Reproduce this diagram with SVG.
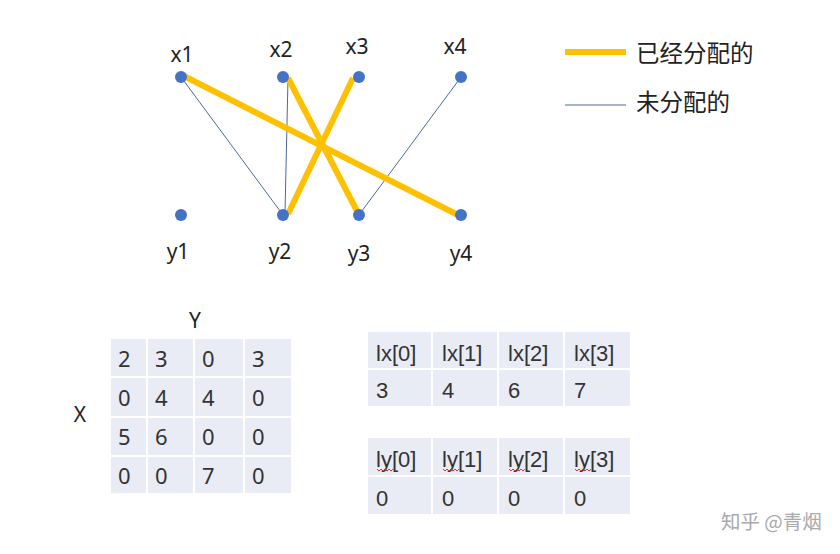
<svg xmlns="http://www.w3.org/2000/svg" width="840" height="554" viewBox="0 0 840 554">
<style>
.lbl{font-family:"Noto Sans","Noto Sans CJK SC",sans-serif;font-size:21px;fill:#222;}
.num{font-family:"Noto Sans","Noto Sans CJK SC",sans-serif;font-size:22px;fill:#333;}
.cjk{font-family:"Noto Sans CJK SC","Noto Sans",sans-serif;font-size:23.5px;fill:#222;}
.tb{font-family:"Liberation Sans",Arial,sans-serif;font-size:22px;fill:#333;}
.cell{fill:#E9EBF5;stroke:#fff;stroke-width:2;}
.node{fill:#4472C4;}
.m{stroke:#FFC000;stroke-width:6;stroke-linecap:butt;fill:none;}
.u{stroke:#4A6A9C;stroke-width:1;fill:none;}
.wm{font-family:"Noto Sans CJK SC",sans-serif;font-size:19.5px;fill:#aaa;}
.sq{stroke:#e03030;stroke-width:1;fill:none;}
</style>
<rect width="840" height="554" fill="#fff"/>
<g id="connectors">
<line class="u" x1="181" y1="77" x2="283" y2="215"/>
<line class="u" x1="288" y1="78" x2="285" y2="213"/>
<line class="u" x1="461" y1="77" x2="359" y2="215"/>
<line class="m" x1="180" y1="74" x2="462" y2="217"/>
<line class="m" x1="288" y1="78" x2="357" y2="211"/>
<line class="m" x1="353" y1="78" x2="288" y2="214"/>
</g>
<g id="x1"><circle class="node" cx="181" cy="77" r="6"/><text class="lbl" x="182" y="62" text-anchor="middle">x1</text></g>
<g id="x2"><circle class="node" cx="283" cy="77" r="6"/><text class="lbl" x="281" y="57" text-anchor="middle">x2</text></g>
<g id="x3"><circle class="node" cx="359" cy="77" r="6"/><text class="lbl" x="357" y="54" text-anchor="middle">x3</text></g>
<g id="x4"><circle class="node" cx="461" cy="77" r="6"/><text class="lbl" x="455" y="54" text-anchor="middle">x4</text></g>
<g id="y1"><circle class="node" cx="181" cy="215" r="6"/><text class="lbl" x="178" y="259" text-anchor="middle">y1</text></g>
<g id="y2"><circle class="node" cx="283" cy="215" r="6"/><text class="lbl" x="280" y="259" text-anchor="middle">y2</text></g>
<g id="y3"><circle class="node" cx="359" cy="215" r="6"/><text class="lbl" x="359" y="261" text-anchor="middle">y3</text></g>
<g id="y4"><circle class="node" cx="461" cy="215" r="6"/><text class="lbl" x="461" y="261" text-anchor="middle">y4</text></g>
<g id="legend">
<line class="m" x1="565" y1="52" x2="626" y2="52"/>
<text class="cjk" x="636" y="62">已经分配的</text>
<line class="u" x1="565" y1="105" x2="626" y2="105"/>
<text class="cjk" x="636" y="111">未分配的</text>
</g>
<g id="matrix">
<text class="lbl" x="195" y="328" text-anchor="middle">Y</text>
<text class="lbl" x="80" y="422" text-anchor="middle">X</text>
<g>
<rect class="cell" x="110" y="338" width="37" height="39"/><rect class="cell" x="147" y="338" width="47" height="39"/><rect class="cell" x="194" y="338" width="50" height="39"/><rect class="cell" x="244" y="338" width="48" height="39"/>
<rect class="cell" x="110" y="377" width="37" height="40"/><rect class="cell" x="147" y="377" width="47" height="40"/><rect class="cell" x="194" y="377" width="50" height="40"/><rect class="cell" x="244" y="377" width="48" height="40"/>
<rect class="cell" x="110" y="417" width="37" height="39"/><rect class="cell" x="147" y="417" width="47" height="39"/><rect class="cell" x="194" y="417" width="50" height="39"/><rect class="cell" x="244" y="417" width="48" height="39"/>
<rect class="cell" x="110" y="456" width="37" height="38"/><rect class="cell" x="147" y="456" width="47" height="38"/><rect class="cell" x="194" y="456" width="50" height="38"/><rect class="cell" x="244" y="456" width="48" height="38"/>
</g>
<g class="num">
<text x="118" y="367">2</text><text x="155" y="367">3</text><text x="202" y="367">0</text><text x="252" y="367">3</text>
<text x="118" y="406">0</text><text x="155" y="406">4</text><text x="202" y="406">4</text><text x="252" y="406">0</text>
<text x="118" y="445">5</text><text x="155" y="445">6</text><text x="202" y="445">0</text><text x="252" y="445">0</text>
<text x="118" y="484">0</text><text x="155" y="484">0</text><text x="202" y="484">7</text><text x="252" y="484">0</text>
</g>
</g>
<g id="lx">
<rect class="cell" x="367" y="331" width="65" height="38"/><rect class="cell" x="432" y="331" width="66" height="38"/><rect class="cell" x="498" y="331" width="66" height="38"/><rect class="cell" x="564" y="331" width="67" height="38"/>
<rect class="cell" x="367" y="369" width="65" height="38"/><rect class="cell" x="432" y="369" width="66" height="38"/><rect class="cell" x="498" y="369" width="66" height="38"/><rect class="cell" x="564" y="369" width="67" height="38"/>
<g class="tb">
<text x="376" y="361">lx[0]</text><text x="442" y="361">lx[1]</text><text x="508" y="361">lx[2]</text><text x="574" y="361">lx[3]</text>
<text x="376" y="398">3</text><text x="442" y="398">4</text><text x="508" y="398">6</text><text x="574" y="398">7</text>
</g>
</g>
<g id="ly">
<rect class="cell" x="367" y="437" width="65" height="39"/><rect class="cell" x="432" y="437" width="66" height="39"/><rect class="cell" x="498" y="437" width="66" height="39"/><rect class="cell" x="564" y="437" width="67" height="39"/>
<rect class="cell" x="367" y="476" width="65" height="39"/><rect class="cell" x="432" y="476" width="66" height="39"/><rect class="cell" x="498" y="476" width="66" height="39"/><rect class="cell" x="564" y="476" width="67" height="39"/>
<g class="tb">
<text x="376" y="467">ly[0]</text><text x="442" y="467">ly[1]</text><text x="508" y="467">ly[2]</text><text x="574" y="467">ly[3]</text>
<text x="376" y="506">0</text><text x="442" y="506">0</text><text x="508" y="506">0</text><text x="574" y="506">0</text>
</g>
<path class="sq" d="M377 469 l2 2 l2 -2 l2 2 l2 -2 l2 2 l2 -2 l2 2 l2 -2"/>
<path class="sq" d="M443 469 l2 2 l2 -2 l2 2 l2 -2 l2 2 l2 -2 l2 2 l2 -2"/>
<path class="sq" d="M509 469 l2 2 l2 -2 l2 2 l2 -2 l2 2 l2 -2 l2 2 l2 -2"/>
<path class="sq" d="M575 469 l2 2 l2 -2 l2 2 l2 -2 l2 2 l2 -2 l2 2 l2 -2"/>
</g>
<text class="wm" x="721" y="529">知乎 @青烟</text>
</svg>
